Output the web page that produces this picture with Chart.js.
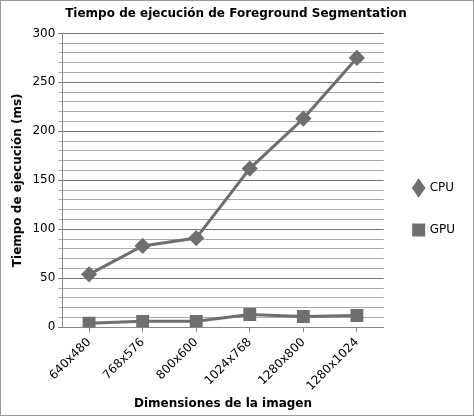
<!DOCTYPE html><html><head><script src="https://cdn.jsdelivr.net/npm/chart.js"></script>
<style>body{margin:0;background:#fff}#w{width:472px;height:414px;position:relative;border:1px solid #999}</style></head><body><div id="w"><canvas id="c"></canvas></div>
<script>
const categories=["640x480","768x576","800x600","1024x768","1280x800","1280x1024"];
const cpu=[54,83,91,162,213,275];
const gpu=[4,6,6,13,11,12];
new Chart(document.getElementById('c'),{type:'line',data:{labels:categories,datasets:[
{label:'CPU',data:cpu,borderColor:'#6f6f6f',backgroundColor:'#6f6f6f',borderWidth:3,pointStyle:'rectRot',pointRadius:6,tension:0},
{label:'GPU',data:gpu,borderColor:'#6f6f6f',backgroundColor:'#6f6f6f',borderWidth:3,pointStyle:'rect',pointRadius:7,tension:0}]},
options:{responsive:true,maintainAspectRatio:false,animation:false,layout:{padding:{left:6,right:8,top:6,bottom:4}},
plugins:{title:{display:true,text:'Tiempo de ejecución de Foreground Segmentation',font:{family:'DejaVu Sans',size:12,weight:'bold'},color:'#000',padding:{bottom:12}},
legend:{position:'right',labels:{usePointStyle:true,pointStyleWidth:10,font:{family:'DejaVu Sans',size:12},color:'#000',padding:30,boxWidth:10,boxHeight:10}}},
scales:{x:{offset:true,grid:{display:true,drawOnChartArea:false,color:'#888',tickLength:5},border:{color:'#888'},ticks:{autoSkip:false,maxRotation:45,minRotation:45,font:{family:'DejaVu Sans',size:12},color:'#000'},
title:{display:true,text:'Dimensiones de la imagen',font:{family:'DejaVu Sans',size:12,weight:'bold'},color:'#000',padding:0}},
y:{min:0,max:300,ticks:{stepSize:10,autoSkip:false,font:{family:'DejaVu Sans',size:12},color:'#000',callback:v=>v%50===0?v:''},
grid:{color:c=>c.tick&&c.tick.value%50===0?'#777':'#aaa',lineWidth:1,tickLength:4},border:{color:'#888'},
title:{display:true,text:'Tiempo de ejecución (ms)',font:{family:'DejaVu Sans',size:12,weight:'bold'},color:'#000'}}}}});
</script></body></html>
